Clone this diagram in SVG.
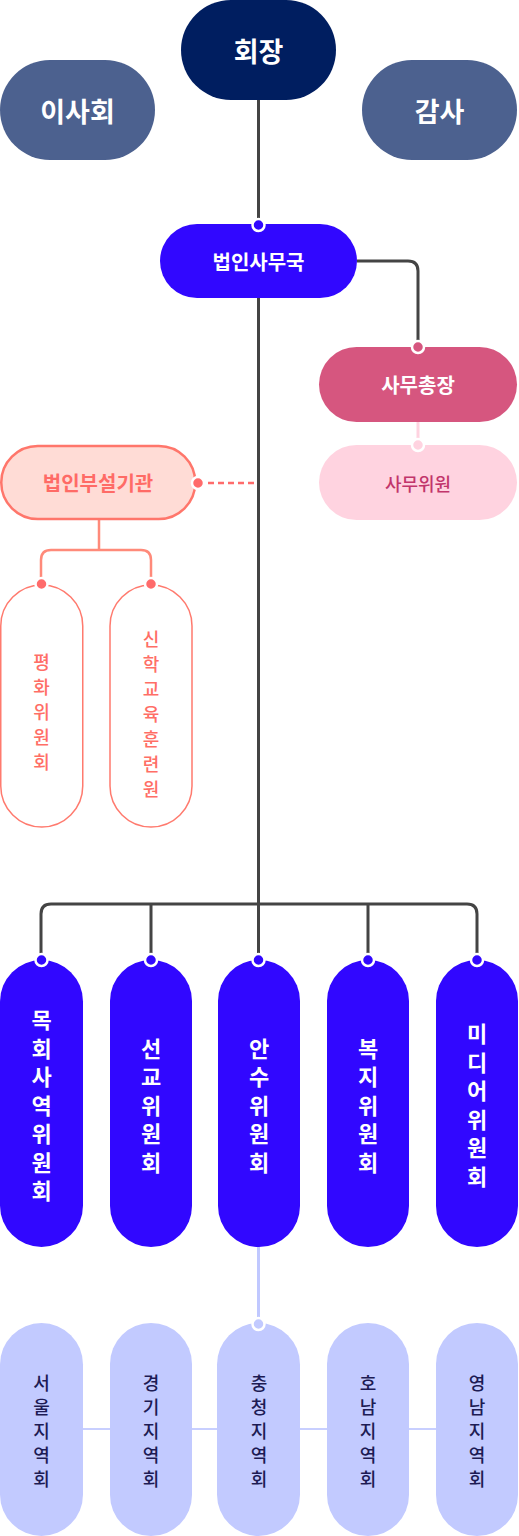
<svg xmlns="http://www.w3.org/2000/svg" width="519" height="1536" viewBox="0 0 519 1536">
<style>
text{font-family:"Noto Sans CJK KR","Noto Sans",sans-serif;text-anchor:middle;dominant-baseline:central}
.b{font-weight:700}
.m{font-weight:500}
.w{fill:#ffffff}
.ln{fill:none;stroke:#444444;stroke-width:3}
.sal{fill:none;stroke:#ff8a7a;stroke-width:2.5}
.dot{stroke:#ffffff;stroke-width:2.5}
</style>
<rect width="519" height="1536" fill="#ffffff"/>
<g id="connectors">
  <path class="ln" d="M258.5 100V225"/>
  <path class="ln" d="M258.5 298V904"/>
  <path class="ln" d="M357 261H408Q418 261 418 271V347"/>
  <path d="M418 422V445" stroke="#ffd3e0" stroke-width="3" fill="none"/>
  <path d="M198 483H258" stroke="#ff6b6b" stroke-width="2.5" stroke-dasharray="6 4" fill="none"/>
  <path class="sal" d="M99 519V550H51Q41 550 41 560V584M99 550H141Q151 550 151 560V584"/>
  <path class="ln" d="M41 959V914Q41 904 51 904H467Q477 904 477 914V959M151 904V959M258.5 904V959M368 904V959"/>
  <path d="M258.5 1247V1324" stroke="#c0c8ff" stroke-width="3" fill="none"/>
  <path d="M83 1429H110M192 1429H218M300 1429H327M409 1429H436" stroke="#c8cfff" stroke-width="2" fill="none"/>
</g>
<g id="n-chair"><rect x="181" y="0" width="155" height="100" rx="50" fill="#001e60"/><text class="b w" x="258.5" y="50" font-size="27">회장</text></g>
<g id="n-board"><rect x="0" y="60" width="155" height="100" rx="50" fill="#4c618f"/><text class="b w" x="77.5" y="110" font-size="27">이사회</text></g>
<g id="n-audit"><rect x="362" y="60" width="155" height="100" rx="50" fill="#4c618f"/><text class="b w" x="439.5" y="110" font-size="27">감사</text></g>
<g id="n-office"><rect x="160" y="224" width="197" height="74" rx="37" fill="#3107ff"/><text class="b w" x="258.5" y="261" font-size="20">법인사무국</text><circle class="dot" cx="258.5" cy="225" r="6" fill="#3107ff"/></g>
<g id="n-secgen"><rect x="319" y="347" width="198" height="75" rx="37.5" fill="#d6567f"/><text class="b w" x="418" y="384.5" font-size="20">사무총장</text><circle class="dot" cx="418" cy="347" r="6" fill="#d6567f"/></g>
<g id="n-secmem"><rect x="319" y="445" width="198" height="75" rx="37.5" fill="#ffd3e0"/><text class="m" x="418" y="483" font-size="18" fill="#c2356b">사무위원</text><circle class="dot" cx="418" cy="445" r="6" fill="#ffd3e0"/></g>
<g id="n-affil"><rect x="1.25" y="446" width="194" height="73" rx="36.5" fill="#ffdcd6" stroke="#ff766b" stroke-width="2.5"/><text class="b" x="98" y="482.5" font-size="20" fill="#ff6b66">법인부설기관</text><circle class="dot" cx="198" cy="483" r="6" fill="#ff6b6b"/></g>
<g id="n-peace"><rect x="0.75" y="585" width="82" height="242" rx="41" fill="#ffffff" stroke="#ff7a6e" stroke-width="1.5"/><text class="m" font-size="18" fill="#ff6e66"><tspan x="41.5" y="661">평</tspan><tspan x="41.5" y="686">화</tspan><tspan x="41.5" y="711">위</tspan><tspan x="41.5" y="736">원</tspan><tspan x="41.5" y="761">회</tspan></text><circle class="dot" cx="41.5" cy="584" r="6" fill="#ff6b6b"/></g>
<g id="n-theo"><rect x="110" y="585" width="82" height="242" rx="41" fill="#ffffff" stroke="#ff7a6e" stroke-width="1.5"/><text class="m" font-size="18" fill="#ff6e66"><tspan x="151" y="638">신</tspan><tspan x="151" y="663">학</tspan><tspan x="151" y="688">교</tspan><tspan x="151" y="713">육</tspan><tspan x="151" y="738">훈</tspan><tspan x="151" y="763">련</tspan><tspan x="151" y="788">원</tspan></text><circle class="dot" cx="151" cy="584" r="6" fill="#ff6b6b"/></g>
<g id="n-pastoral"><rect x="0" y="960" width="83" height="287" rx="41.5" fill="#3107ff"/><text class="b w" font-size="22"><tspan x="41.5" y="1018">목</tspan><tspan x="41.5" y="1046.5">회</tspan><tspan x="41.5" y="1075">사</tspan><tspan x="41.5" y="1103.5">역</tspan><tspan x="41.5" y="1132">위</tspan><tspan x="41.5" y="1160.5">원</tspan><tspan x="41.5" y="1189">회</tspan></text><circle class="dot" cx="41.5" cy="960" r="6" fill="#3107ff"/></g>
<g id="n-mission"><rect x="110" y="960" width="82" height="287" rx="41" fill="#3107ff"/><text class="b w" font-size="22"><tspan x="151" y="1046.5">선</tspan><tspan x="151" y="1075">교</tspan><tspan x="151" y="1103.5">위</tspan><tspan x="151" y="1132">원</tspan><tspan x="151" y="1160.5">회</tspan></text><circle class="dot" cx="151" cy="960" r="6" fill="#3107ff"/></g>
<g id="n-ordain"><rect x="218" y="960" width="82" height="287" rx="41" fill="#3107ff"/><text class="b w" font-size="22"><tspan x="259" y="1046.5">안</tspan><tspan x="259" y="1075">수</tspan><tspan x="259" y="1103.5">위</tspan><tspan x="259" y="1132">원</tspan><tspan x="259" y="1160.5">회</tspan></text><circle class="dot" cx="258.5" cy="960" r="6" fill="#3107ff"/></g>
<g id="n-welfare"><rect x="327" y="960" width="82" height="287" rx="41" fill="#3107ff"/><text class="b w" font-size="22"><tspan x="368" y="1046.5">복</tspan><tspan x="368" y="1075">지</tspan><tspan x="368" y="1103.5">위</tspan><tspan x="368" y="1132">원</tspan><tspan x="368" y="1160.5">회</tspan></text><circle class="dot" cx="368" cy="960" r="6" fill="#3107ff"/></g>
<g id="n-media"><rect x="436" y="960" width="82" height="287" rx="41" fill="#3107ff"/><text class="b w" font-size="22"><tspan x="477" y="1032">미</tspan><tspan x="477" y="1061">디</tspan><tspan x="477" y="1089">어</tspan><tspan x="477" y="1118">위</tspan><tspan x="477" y="1146">원</tspan><tspan x="477" y="1175">회</tspan></text><circle class="dot" cx="477" cy="960" r="6" fill="#3107ff"/></g>
<g id="n-seoul"><rect x="0" y="1323" width="83" height="213" rx="41.5" fill="#c2caff"/><text class="m" font-size="18" fill="#1d1b54"><tspan x="41.5" y="1382">서</tspan><tspan x="41.5" y="1406">울</tspan><tspan x="41.5" y="1430">지</tspan><tspan x="41.5" y="1454">역</tspan><tspan x="41.5" y="1478">회</tspan></text></g>
<g id="n-gyeonggi"><rect x="110" y="1323" width="82" height="213" rx="41" fill="#c2caff"/><text class="m" font-size="18" fill="#1d1b54"><tspan x="151" y="1382">경</tspan><tspan x="151" y="1406">기</tspan><tspan x="151" y="1430">지</tspan><tspan x="151" y="1454">역</tspan><tspan x="151" y="1478">회</tspan></text></g>
<g id="n-chung"><rect x="217" y="1323" width="83" height="213" rx="41.5" fill="#c2caff"/><text class="m" font-size="18" fill="#1d1b54"><tspan x="259" y="1382">충</tspan><tspan x="259" y="1406">청</tspan><tspan x="259" y="1430">지</tspan><tspan x="259" y="1454">역</tspan><tspan x="259" y="1478">회</tspan></text><circle class="dot" cx="258.5" cy="1324" r="6" fill="#c2caff"/></g>
<g id="n-honam"><rect x="327" y="1323" width="82" height="213" rx="41" fill="#c2caff"/><text class="m" font-size="18" fill="#1d1b54"><tspan x="368" y="1382">호</tspan><tspan x="368" y="1406">남</tspan><tspan x="368" y="1430">지</tspan><tspan x="368" y="1454">역</tspan><tspan x="368" y="1478">회</tspan></text></g>
<g id="n-yeongnam"><rect x="436" y="1323" width="82" height="213" rx="41" fill="#c2caff"/><text class="m" font-size="18" fill="#1d1b54"><tspan x="477" y="1382">영</tspan><tspan x="477" y="1406">남</tspan><tspan x="477" y="1430">지</tspan><tspan x="477" y="1454">역</tspan><tspan x="477" y="1478">회</tspan></text></g>
</svg>
